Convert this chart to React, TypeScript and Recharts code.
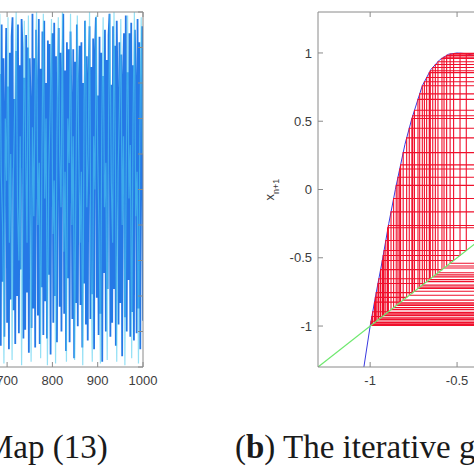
import { Label, Line, LineChart, XAxis, YAxis } from 'recharts';

// time series of the map, two state components sampled along n
const blueStart = 680;
const blueStep = 2;
const blueValues = [
  0.82, -0.71, 0.65, -0.88, 0.93, -0.52, 0.74, -0.83, 0.42, 0.91,
  -0.75, 0.58, -0.9, 0.77, -0.62, 0.86, 0.97, -0.68, 0.51, -0.87,
  0.78, -0.6, 0.93, -0.81, 0.7, -0.45, 0.96, 0.8, -0.84, 0.63,
  -0.79, 0.87, -0.58, 0.8, -0.92, 0.74, 0.45, -0.78, 0.99, -0.67,
  0.74, -0.89, 0.9, 0.55, -0.71, 0.96, -0.87, 0.68, -0.55, 0.89,
  -0.82, 0.95, -0.63, 0.6, -0.84, 0.84, -0.48, 0.82, -0.93, 0.61,
  0.88, -0.75, 0.94, -0.6, 0.75, -0.86, 0.46, 0.91, -0.66, 0.77,
  -0.8, 0.66, 0.99, -0.7, 0.67, -0.91, 0.83, -0.5, 0.79, -0.86,
  0.89, 0.48, -0.73, 0.79, -0.95, 0.72, -0.64, 0.93, -0.77, 0.58,
  0.81, -0.65, 0.83, -0.89, 0.6, -0.53, 0.95, -0.76, 0.75, -0.85,
  0.64, 0.92, -0.73, 0.69, -0.59, 0.85, -0.9, 0.78, 0.97, -0.61,
  0.53, -0.82, 0.86, -0.7, 0.77, -0.97, 0.64, -0.47, 0.9, -0.8,
  0.73, -0.56, 0.87, 0.99, -0.83, 0.59, -0.75, 0.92, -0.56, 0.81,
  -0.88, 0.95, 0.5, -0.76, 0.83, -0.64, 0.76, -0.94, 0.63, 0.88,
  -0.72, 0.98, -0.8, 0.66, -0.51, 0.88, -0.83, 0.94, -0.69, 0.7,
  -0.85, 0.9, 0.59, -0.81, 0.96, -0.67, 0.83, -0.9, 0.57, 0.92, -0.74,
];
const cyanStart = 681;
const cyanStep = 3;
const cyanValues = [
  0.3, 0.99, 0.1, -0.2, -0.98, 0.4, 0.05, 0.97, -0.3, 0.2,
  -0.96, 0.1, 0.5, 1.0, -0.1, -0.4, 0.3, -0.99, 0.0, 0.95,
  0.2, -0.3, 0.98, 0.1, -0.97, 0.35, -0.15, 0.6, 1.0, -0.2,
  0.15, -0.95, 0.25, 0.99, -0.05, 0.4, -0.99, 0.1, 0.45, 0.96,
  -0.25, 0.05, -0.98, 0.3, 0.97, 0.2, -0.1, 1.0, -0.35, 0.1,
  -0.97, 0.4, 0.15, 0.99, -0.2, 0.3, -0.96, 0.05, 0.98, 0.25,
  -0.3, 0.1, -0.99, 0.5, 0.95, -0.1, 0.2, 1.0, -0.4, -0.97,
  0.3, 0.0, 0.98, 0.2, -0.25, -0.98, 0.35, 0.97, -0.1, 0.15,
  -0.96, 0.4, 0.99, 0.05, -0.3, 1.0, 0.2, -0.97, 0.1, 0.45,
  0.96, -0.2, 0.3, -0.99, 0.15, 0.98, -0.05, 0.25, -0.95, 0.4,
  1.0, -0.15, 0.1, -0.98, 0.3, 0.97, 0.2,
];
const timeTicks = [0, 100, 200, 300, 400, 500, 600, 700, 800, 900, 1000];
const stateTicks = [-1, -0.8, -0.6, -0.4, -0.2, 0, 0.2, 0.4, 0.6, 0.8, 1];

// map curve x_{n+1} = f(x_n)
const curveX = [-1.036, -1.0, -0.965, -0.93, -0.893, -0.855, -0.8, -0.76, -0.7, -0.65, -0.6, -0.55, -0.5, -0.45, -0.4, -0.35];
const curveY = [-1.3, -1.0, -0.755, -0.52, -0.25, 0.0, 0.33, 0.52, 0.76, 0.88, 0.95, 0.99, 1.0, 0.995, 0.98, 0.955];
// iterated orbit x_0, x_1, ...
const orbit = [
  -0.76, 0.52, -0.97, -0.79, 0.378, -0.88, -0.164, -0.61, 0.936, -0.995,
  -0.965, -0.755, 0.54, -0.84, 0.09, -0.725, 0.66, -0.925, -0.483, 0.998,
  -0.985, -0.895, -0.264, -0.675, 0.82, -0.94, -0.587, 0.96, -0.955, -0.688,
  0.789, -0.865, -0.066, -0.64, 0.894, -0.81, 0.27, -0.575, 0.97, -0.91,
  -0.374, 0.972, -0.92, -0.447, 0.995, -0.975, -0.825, 0.18, -0.7, 0.76,
  -0.85, 0.03, -0.745, 0.58, -0.56, 0.982, -0.95, -0.654, 0.87, -0.775,
  0.449, -0.66, 0.856, -0.54, 0.992, -0.99, -0.93, -0.52, 0.996, -0.715,
  0.7, -0.9, -0.28, -0.625, 0.915, -0.83, 0.15,
];
const diagonalEnds = [-1.3, 1.3];
const cobwebTicks = [-1, -0.5, 0, 0.5, 1];

const blueData = blueValues.map((v, i) => ({ n: blueStart + i * blueStep, v }));
const cyanData = cyanValues.map((v, i) => ({ n: cyanStart + i * cyanStep, v }));
const curveData = curveX.map((x, i) => ({ x, y: curveY[i] }));
const diagonalData = diagonalEnds.map((x) => ({ x, y: x }));
const cobwebData: { x: number; y: number }[] = [];
orbit.forEach((v, i) => {
  if (i > 0) cobwebData.push({ x: orbit[i - 1], y: v });
  cobwebData.push({ x: v, y: v });
});

const AXIS = '#8a8a8a';
const TEXT = '#3c3c3c';
const TICK = 5;
const SANS = "'Liberation Sans', Arial, sans-serif";
const axisLine = { stroke: AXIS, strokeWidth: 1 };

// MATLAB-style ticks point into the box
const bottomTick = (gap: number) => (p: any) => (
  <g>
    <line x1={p.x} x2={p.x} y1={p.y - gap} y2={p.y - gap - TICK} stroke={AXIS} />
    <text x={p.x} y={p.y} dy='0.71em' textAnchor='middle' fontSize={13} fontFamily={SANS} fill={TEXT}>
      {String(p.payload.value)}
    </text>
  </g>
);
const topTick = (p: any) => (
  <line x1={p.x} x2={p.x} y1={p.y} y2={p.y + TICK} stroke={AXIS} />
);
const leftTick = (gap: number) => (p: any) => (
  <g>
    <line x1={p.x + gap} x2={p.x + gap + TICK} y1={p.y} y2={p.y} stroke={AXIS} />
    <text x={p.x} y={p.y} dy='0.355em' textAnchor='end' fontSize={13} fontFamily={SANS} fill={TEXT}>
      {String(p.payload.value)}
    </text>
  </g>
);
const rightTick = (p: any) => (
  <line x1={p.x} x2={p.x - TICK} y1={p.y} y2={p.y} stroke={AXIS} />
);

function TimeSeriesChart() {
  return (
    <LineChart width={493} height={407} margin={{ top: 11, right: 19, bottom: 10, left: 19 }}>
      <XAxis xAxisId='b' dataKey='n' type='number' domain={[0, 1000]} ticks={timeTicks} interval={0}
        height={30} tickSize={0} tickMargin={9} tickLine={false} axisLine={axisLine}
        tick={bottomTick(9)} allowDataOverflow />
      <XAxis xAxisId='t' orientation='top' dataKey='n' type='number' domain={[0, 1000]} ticks={timeTicks}
        interval={0} height={1} tickSize={0} tickMargin={0} tickLine={false} axisLine={axisLine}
        tick={topTick} allowDataOverflow />
      <YAxis yAxisId='l' type='number' domain={[-1, 1]} width={1} tick={false} tickLine={false}
        axisLine={axisLine} allowDataOverflow />
      <YAxis yAxisId='r' orientation='right' type='number' domain={[-1, 1]} ticks={stateTicks} interval={0}
        width={1} tickSize={0} tickMargin={0} tickLine={false} axisLine={axisLine} tick={rightTick}
        allowDataOverflow />
      <Line xAxisId='b' yAxisId='l' data={blueData} dataKey='v' type='linear' stroke='#2579e6'
        strokeWidth={1.8} dot={false} isAnimationActive={false} />
      <Line xAxisId='b' yAxisId='l' data={cyanData} dataKey='v' type='linear' stroke='#4ccbef'
        strokeWidth={1.2} strokeOpacity={0.6} dot={false} isAnimationActive={false} />
    </LineChart>
  );
}

function CobwebChart() {
  return (
    <LineChart width={532} height={407} margin={{ top: 11, right: 19, bottom: 10, left: 59 }}>
      <XAxis xAxisId='b' dataKey='x' type='number' domain={[-1.3, 1.3]} ticks={cobwebTicks} interval={0}
        height={30} tickSize={0} tickMargin={9} tickLine={false} axisLine={axisLine}
        tick={bottomTick(9)} allowDataOverflow />
      <XAxis xAxisId='t' orientation='top' dataKey='x' type='number' domain={[-1.3, 1.3]} ticks={cobwebTicks}
        interval={0} height={1} tickSize={0} tickMargin={0} tickLine={false} axisLine={axisLine}
        tick={topTick} allowDataOverflow />
      <YAxis yAxisId='l' type='number' domain={[-1.3, 1.3]} ticks={cobwebTicks} interval={0} width={1}
        tickSize={0} tickMargin={6} tickLine={false} axisLine={axisLine} tick={leftTick(6)} allowDataOverflow>
        <Label
          content={(p: any) => {
            const vb = p.viewBox;
            const cx = vb.x + vb.width - 44;
            const cy = vb.y + vb.height / 2;
            return (
              <text transform={`translate(${cx},${cy}) rotate(-90)`} textAnchor='middle' fontSize={13}
                fontFamily={SANS} fill={TEXT}>
                x<tspan dy={5} fontSize={9}>n+1</tspan>
              </text>
            );
          }}
        />
      </YAxis>
      <YAxis yAxisId='r' orientation='right' type='number' domain={[-1.3, 1.3]} ticks={cobwebTicks}
        interval={0} width={1} tickSize={0} tickMargin={0} tickLine={false} axisLine={axisLine}
        tick={rightTick} allowDataOverflow />
      <Line xAxisId='b' yAxisId='l' data={curveData} dataKey='y' type='linear' stroke='#3a3ae0'
        strokeWidth={1} dot={false} isAnimationActive={false} />
      <Line xAxisId='b' yAxisId='l' data={cobwebData} dataKey='y' type='linear' stroke='#f0102c'
        strokeWidth={1.1} dot={false} isAnimationActive={false} />
      <Line xAxisId='b' yAxisId='l' data={diagonalData} dataKey='y' type='linear' stroke='#6ee86e'
        strokeWidth={1.3} dot={false} isAnimationActive={false} />
    </LineChart>
  );
}

export default function App() {
  const serif = "'Liberation Serif', 'Times New Roman', serif";
  return (
    <div style={{ position: 'absolute', left: 0, top: 0, width: 474, height: 474, overflow: 'hidden', background: '#fff' }}>
      <div style={{ position: 'absolute', left: -330, top: 0 }}>
        <TimeSeriesChart />
      </div>
      <div style={{ position: 'absolute', left: 258, top: 0 }}>
        <CobwebChart />
      </div>
      <svg width={474} height={474} style={{ position: 'absolute', left: 0, top: 0, pointerEvents: 'none' }}>
        <text x={-16} y={458} fontFamily={serif} fontSize={33} fill='#1a1a1a'>Map (13)</text>
        <text x={235} y={458} fontFamily={serif} fontSize={33} fill='#1a1a1a'>
          (<tspan fontWeight='bold'>b</tspan>) The iterative graph
        </text>
      </svg>
    </div>
  );
}
